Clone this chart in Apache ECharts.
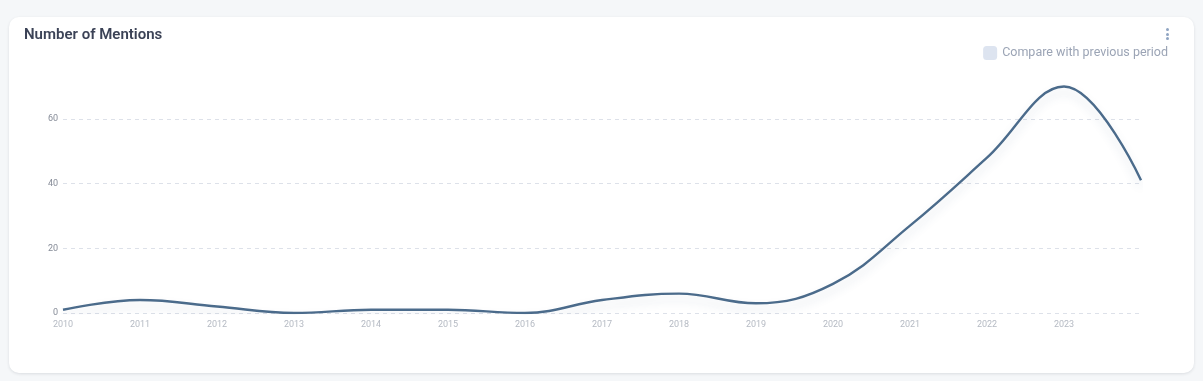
<!DOCTYPE html>
<html>
<head>
<meta charset="utf-8">
<script src="https://cdn.jsdelivr.net/npm/echarts@6/dist/echarts.min.js"></script>
<style>
html,body{margin:0;padding:0;width:1203px;height:381px;background:#f5f7f9;overflow:hidden;font-family:Roboto,"Noto Sans",sans-serif;}
#card{position:absolute;left:9px;top:17px;width:1185px;height:356px;background:#fff;border-radius:10px;box-shadow:0 1px 3px rgba(30,40,60,0.12);}
#dots{position:absolute;left:1166px;top:28px;width:4px;height:14px;}
#dots i{display:block;width:3px;height:3px;border-radius:50%;background:#8fa4c2;margin-bottom:1.5px;}
#chart{position:absolute;left:0;top:0;width:1203px;height:381px;}
</style>
</head>
<body>
<div id="card"></div>
<div id="chart"></div>
<div id="dots"><i></i><i></i><i></i></div>
<script>
const categories = ['2010','2011','2012','2013','2014','2015','2016','2017','2018','2019','2020','2021','2022','2023','2024'];
const mentions = [1, 4, 2, 0, 1, 1, 0, 4, 6, 3, 9, 27, 48, 70, 41];
const compareName = 'Compare with previous period';
const titleText = 'Number of Mentions';

const chart = echarts.init(document.getElementById('chart'), null, {renderer:'canvas'});
const gridColor = '#dde1e9';
chart.setOption({
  animation:false,
  textStyle:{fontFamily:'Roboto, "Noto Sans", sans-serif'},
  title:{
    text:titleText, left:19, top:23,
    textStyle:{fontSize:15, fontWeight:600, color:'#3b4256', fontFamily:'Roboto'}
  },
  legend:{
    right:30, top:41,
    icon:'roundRect', itemWidth:14, itemHeight:14, itemGap:7,
    textStyle:{color:'#9ba4b5', fontSize:12.5, fontFamily:'Roboto'},
    data:[{name:compareName, itemStyle:{color:'#dde4f0'}}]
  },
  grid:{left:63, right:62, top:54.2, bottom:68, containLabel:false},
  xAxis:{
    type:'category', data:categories, boundaryGap:false,
    axisLine:{show:false}, axisTick:{show:false},
    axisLabel:{color:'#b5bac3', fontSize:9, margin:7, showMaxLabel:false, interval:0,
      formatter:(v,i)=> i===categories.length-1 ? '' : v}
  },
  yAxis:{
    type:'value', min:0, max:80, interval:20,
    axisLine:{show:false}, axisTick:{show:false},
    axisLabel:{color:'#858b97', fontSize:9, margin:5, showMaxLabel:false,
      formatter:(v)=> v===80 ? '' : String(v)},
    splitLine:{show:true, showMaxLine:false, lineStyle:{type:[4,4], width:1,
      color:[gridColor,gridColor,gridColor,gridColor,'rgba(0,0,0,0)']}}
  },
  series:[
    {
      name:titleText, type:'line', data:mentions, smooth:0.4, symbol:'none',
      lineStyle:{color:'#4b6b8b', width:2.4, shadowColor:'rgba(60,90,130,0.18)', shadowBlur:10, shadowOffsetY:6},
      itemStyle:{color:'#4b6b8b'}
    },
    {name:compareName, type:'line', data:[], itemStyle:{color:'#dde4f0'}}
  ]
});
</script>
</body>
</html>
